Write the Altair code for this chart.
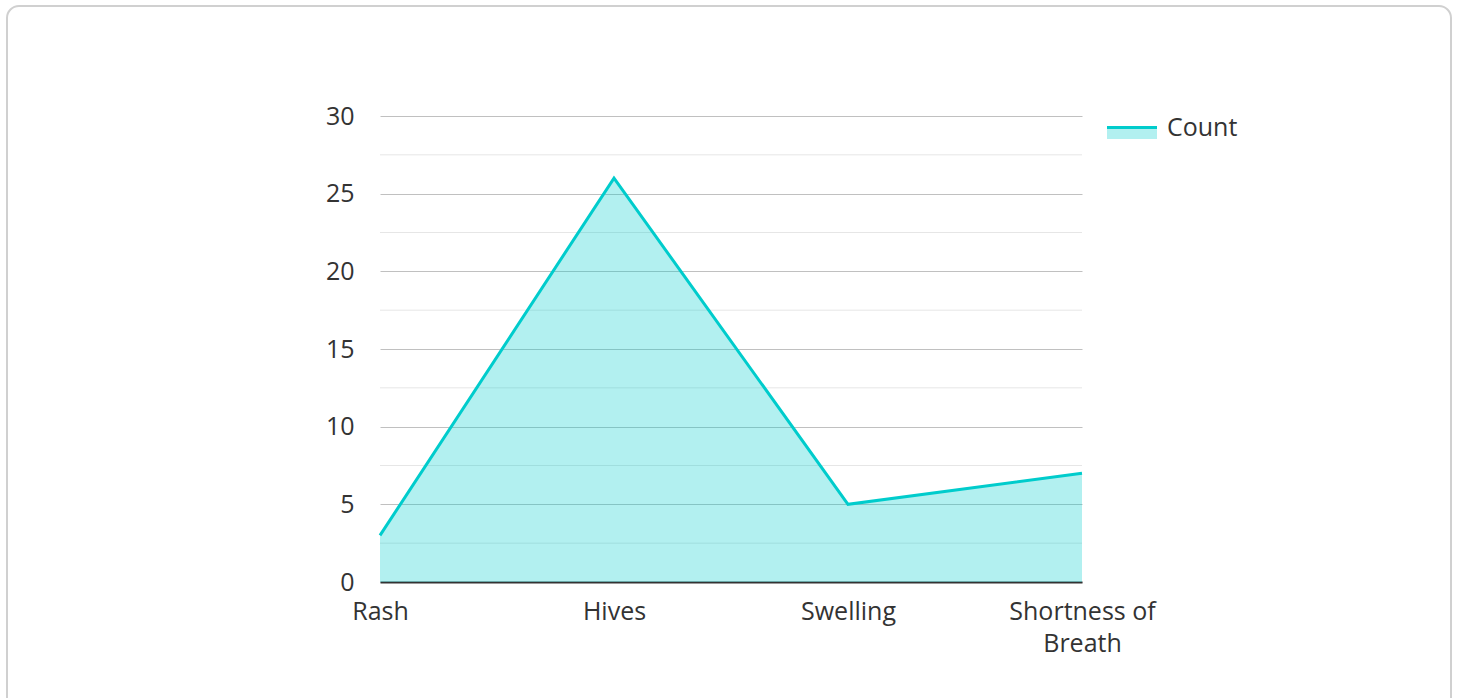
import altair as alt
import pandas as pd

categories = ["Rash", "Hives", "Swelling", "Shortness of Breath"]
counts = [3, 26, 5, 7]
series_name = "Count"
major_ticks = [0, 5, 10, 15, 20, 25, 30]
minor_ticks = [2.5, 7.5, 12.5, 17.5, 22.5, 27.5]

df = pd.DataFrame({"Symptom": categories, "Count": counts})
minor_df = pd.DataFrame({"Count": minor_ticks})
legend_df = pd.DataFrame({"label": [series_name]})

TEAL = "#00cccc"
FONT = "Open Sans"
FS = 25

x_enc = alt.X(
    "Symptom:N",
    sort=categories,
    scale=alt.Scale(type="point", padding=0),
    axis=alt.Axis(
        title=None,
        labelAngle=0,
        ticks=False,
        grid=False,
        domainColor="#333333",
        domainWidth=2,
        labelFontSize=FS,
        labelColor="#333333",
        labelPadding=17,
        labelLineHeight=32,
        labelExpr="datum.label == 'Shortness of Breath' ? ['Shortness of', 'Breath'] : datum.label",
    ),
)
y_scale = alt.Scale(domain=[0, 30], nice=False, zero=True)
y_axis = alt.Axis(
    title=None,
    values=major_ticks,
    domain=False,
    ticks=False,
    gridColor="#c0c0c0",
    gridWidth=1,
    labelFontSize=FS,
    labelColor="#333333",
    labelPadding=26,
)
y_enc = alt.Y("Count:Q", scale=y_scale, axis=y_axis)

border = alt.Chart(legend_df).mark_rect(
    fill="transparent", stroke="#d0d0d0", strokeWidth=2, cornerRadius=12
).encode(x=alt.value(-373), x2=alt.value(1071), y=alt.value(-110), y2=alt.value(620))

minor = alt.Chart(minor_df).mark_rule(color="#e6e6e6", strokeWidth=1).encode(y=y_enc)

area = alt.Chart(df).mark_area(color=TEAL, opacity=0.3).encode(x=x_enc, y=y_enc)
line = alt.Chart(df).mark_line(color=TEAL, strokeWidth=3, strokeJoin="miter").encode(x=x_enc, y=y_enc)

leg_rect = alt.Chart(legend_df).mark_rect(color=TEAL, opacity=0.3).encode(
    x=alt.value(727), x2=alt.value(777), y=alt.value(11), y2=alt.value(23)
)
leg_line = alt.Chart(legend_df).mark_rule(color=TEAL, strokeWidth=3).encode(
    x=alt.value(727), x2=alt.value(777), y=alt.value(11.5)
)
leg_text = alt.Chart(legend_df).mark_text(
    align="left", baseline="alphabetic", fontSize=FS, color="#333333", font=FONT
).encode(x=alt.value(787), y=alt.value(20), text="label:N")

chart = alt.layer(border, minor, area, line, leg_rect, leg_line, leg_text).properties(
    width=702,
    height=466,
    padding={"left": 380, "top": 116, "right": 376, "bottom": 116},
    autosize=alt.AutoSizeParams(type="none"),
    background="white",
).configure(font=FONT).configure_view(strokeWidth=0)

chart.save("out.html", embed_options={"renderer": "svg", "actions": False})
